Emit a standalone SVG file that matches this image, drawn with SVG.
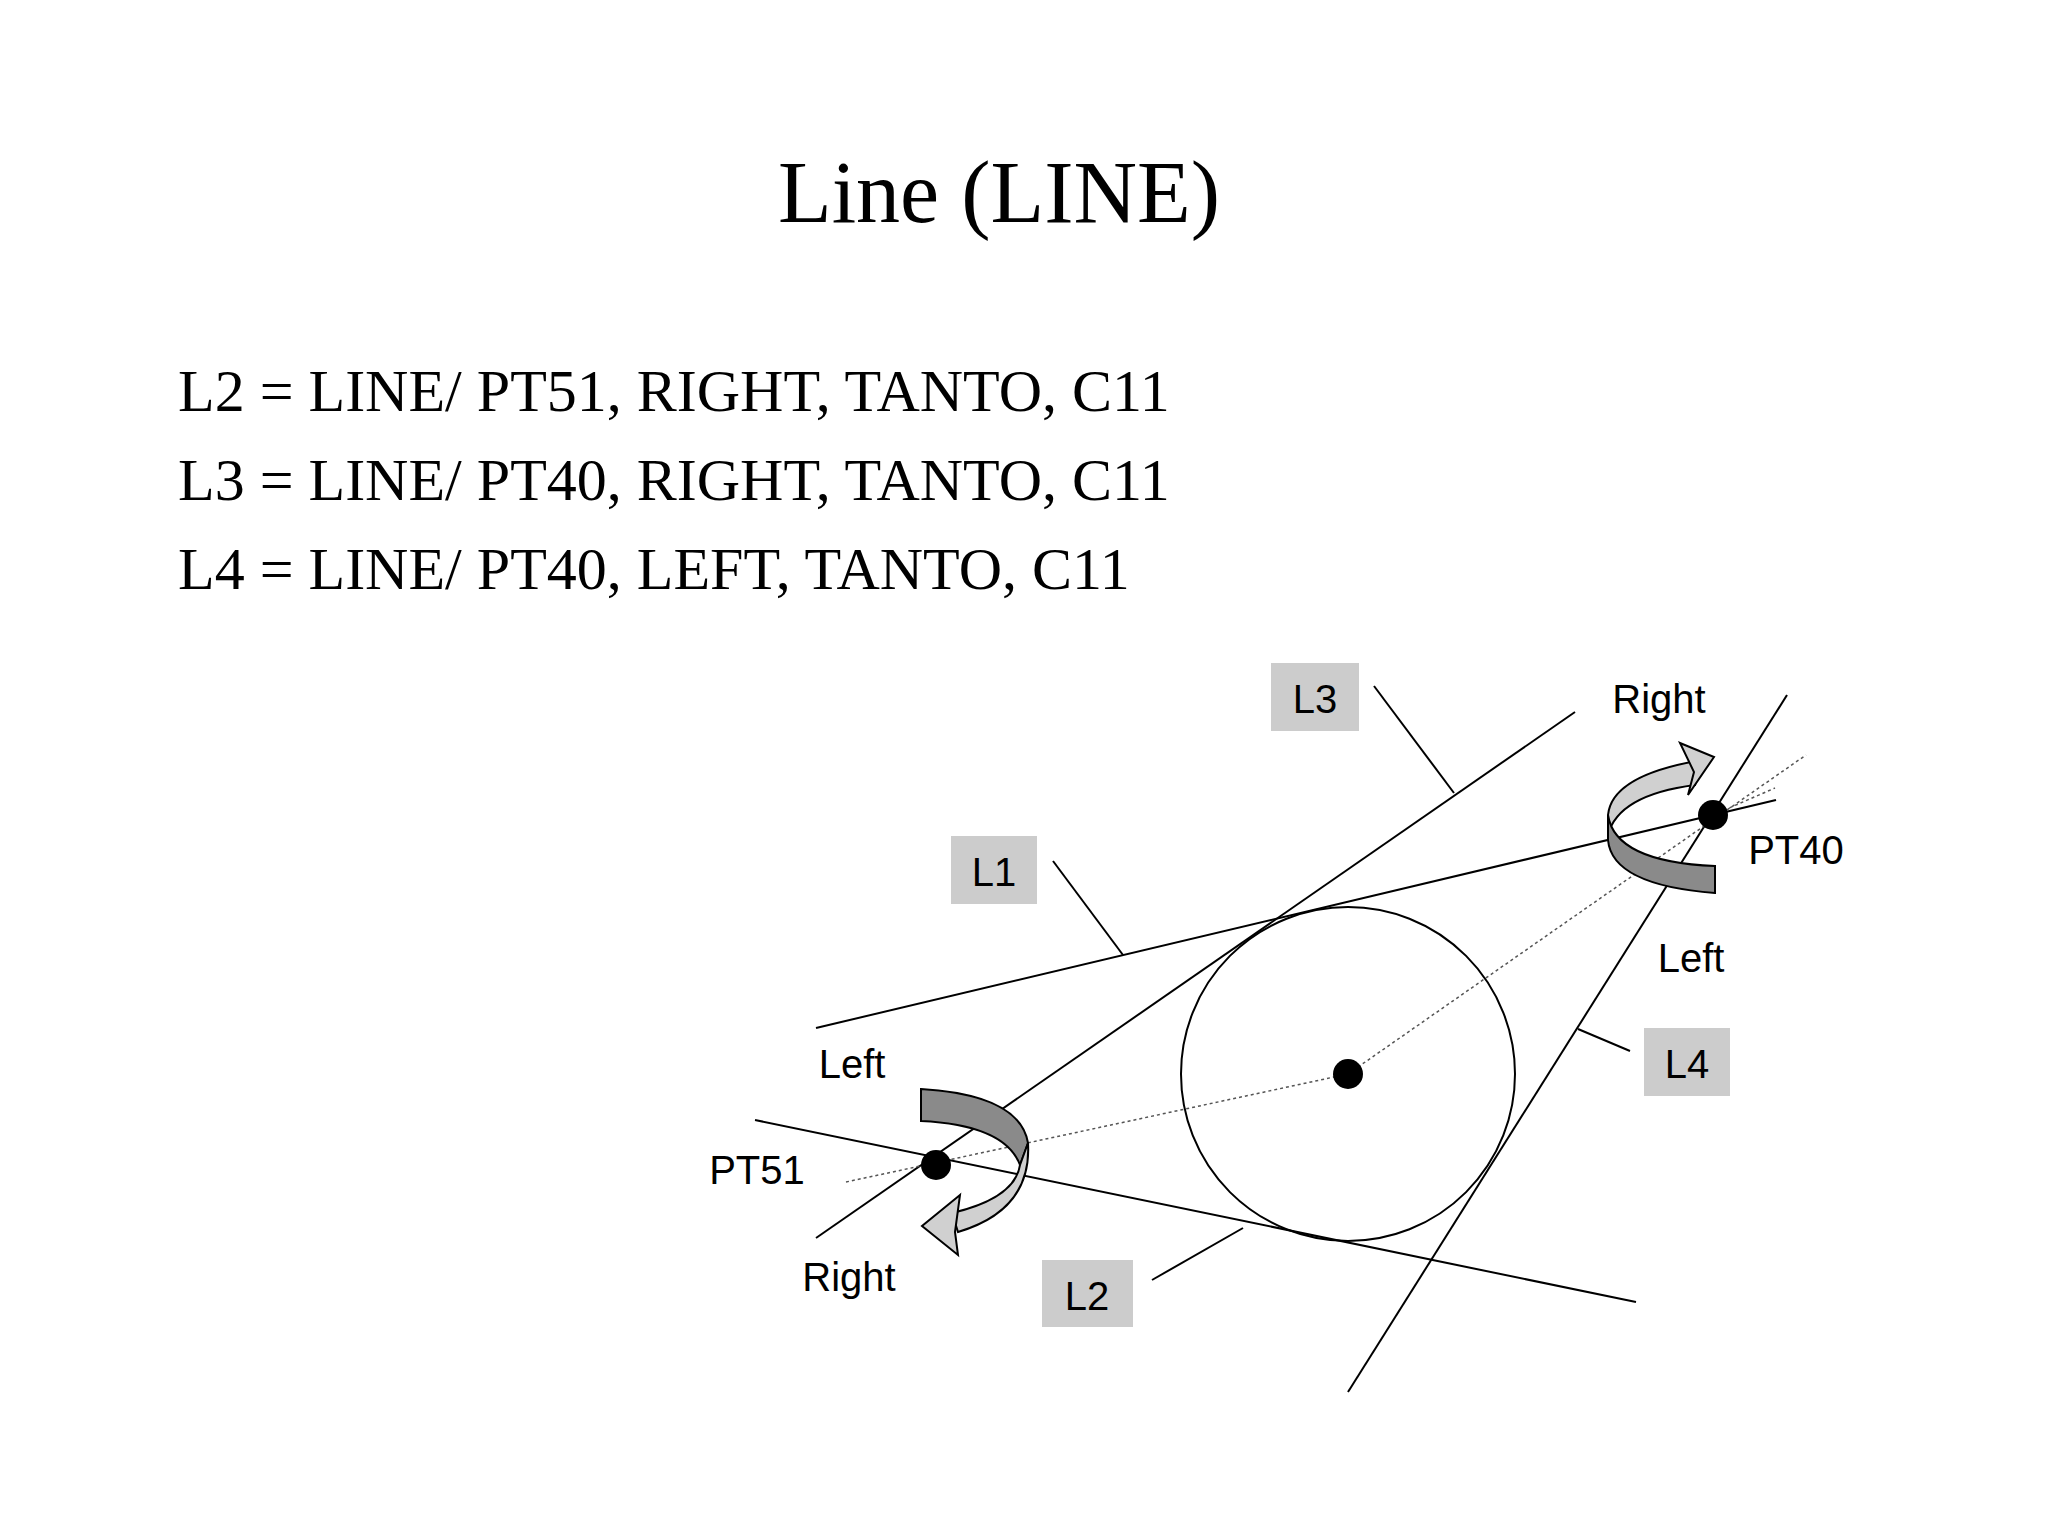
<svg xmlns="http://www.w3.org/2000/svg" width="2048" height="1536" viewBox="0 0 2048 1536">
<style>
.ln{stroke:#000;stroke-width:2;fill:none}
.dot{stroke:#555;stroke-width:1.5;stroke-dasharray:3 3;fill:none}
.lab{font-family:"Liberation Sans",Arial,sans-serif;font-size:40px;fill:#000}
.box{fill:#cccccc}
.ser{font-family:"Liberation Serif","Times New Roman",serif;fill:#000}
</style>
<rect width="2048" height="1536" fill="#fff"/>
<text class="ser" x="999" y="222" font-size="88" text-anchor="middle">Line (LINE)</text>
<g class="ser" font-size="60">
<text x="178" y="411">L2 = LINE/ PT51, RIGHT, TANTO, C11</text>
<text x="178" y="500">L3 = LINE/ PT40, RIGHT, TANTO, C11</text>
<text x="178" y="589">L4 = LINE/ PT40, LEFT, TANTO, C11</text>
</g>
<g id="connectors">
<line class="ln" x1="816" y1="1028" x2="1776" y2="800"/>
<line class="ln" x1="816" y1="1238" x2="1575" y2="712"/>
<line class="ln" x1="755" y1="1120" x2="1636" y2="1302"/>
<line class="ln" x1="1348" y1="1392" x2="1787" y2="695"/>
<line class="dot" x1="846" y1="1182" x2="1348" y2="1074"/>
<line class="dot" x1="1348" y1="1074" x2="1806" y2="755"/>
<line class="dot" x1="1713" y1="815" x2="1775" y2="788"/>
<line class="ln" x1="1374" y1="686" x2="1454" y2="793"/>
<line class="ln" x1="1053" y1="861" x2="1123" y2="955"/>
<line class="ln" x1="1630" y1="1051" x2="1578" y2="1029"/>
<line class="ln" x1="1152" y1="1280" x2="1243" y2="1228"/>
</g>
<g id="C11"><circle class="ln" cx="1348" cy="1074" r="167"/><circle cx="1348" cy="1074" r="15"/></g>
<g id="PT51"><circle cx="936" cy="1165" r="15"/><text class="lab" x="757" y="1184" text-anchor="middle">PT51</text></g>
<g id="PT40"><circle cx="1713" cy="815" r="15"/><text class="lab" x="1796" y="864" text-anchor="middle">PT40</text></g>
<g id="arrow40" stroke="#000" stroke-width="2">
<path d="M1702,760 Q1612,775 1608,815 L1608,835 Q1618,795 1695,785 Z" fill="#d0d0d0"/>
<path d="M1680,743 L1714,757 L1688,795 L1694,772 Z" fill="#d0d0d0"/>
<path d="M1608,815 Q1615,862 1715,866 L1715,893 Q1612,885 1608,840 Z" fill="#8a8a8a"/>
</g>
<g id="arrow51" stroke="#000" stroke-width="2">
<path d="M921,1089 Q1020,1095 1028,1143 L1020,1165 Q1005,1125 921,1121 Z" fill="#8a8a8a"/>
<path d="M1028,1143 Q1032,1210 958,1232 L952,1213 Q1015,1198 1020,1165 Z" fill="#d0d0d0"/>
<path d="M960,1195 L922,1226 L958,1255 L955,1232 Z" fill="#d0d0d0"/>
</g>
<g id="labels">
<text class="lab" x="1659" y="713" text-anchor="middle">Right</text>
<text class="lab" x="1691" y="972" text-anchor="middle">Left</text>
<text class="lab" x="852" y="1078" text-anchor="middle">Left</text>
<text class="lab" x="849" y="1291" text-anchor="middle">Right</text>
</g>
<g id="L3"><rect class="box" x="1271" y="663" width="88" height="68"/><text class="lab" x="1315" y="713" text-anchor="middle">L3</text></g>
<g id="L1"><rect class="box" x="951" y="836" width="86" height="68"/><text class="lab" x="994" y="886" text-anchor="middle">L1</text></g>
<g id="L4"><rect class="box" x="1644" y="1028" width="86" height="68"/><text class="lab" x="1687" y="1078" text-anchor="middle">L4</text></g>
<g id="L2"><rect class="box" x="1042" y="1260" width="91" height="67"/><text class="lab" x="1087" y="1310" text-anchor="middle">L2</text></g>
</svg>
